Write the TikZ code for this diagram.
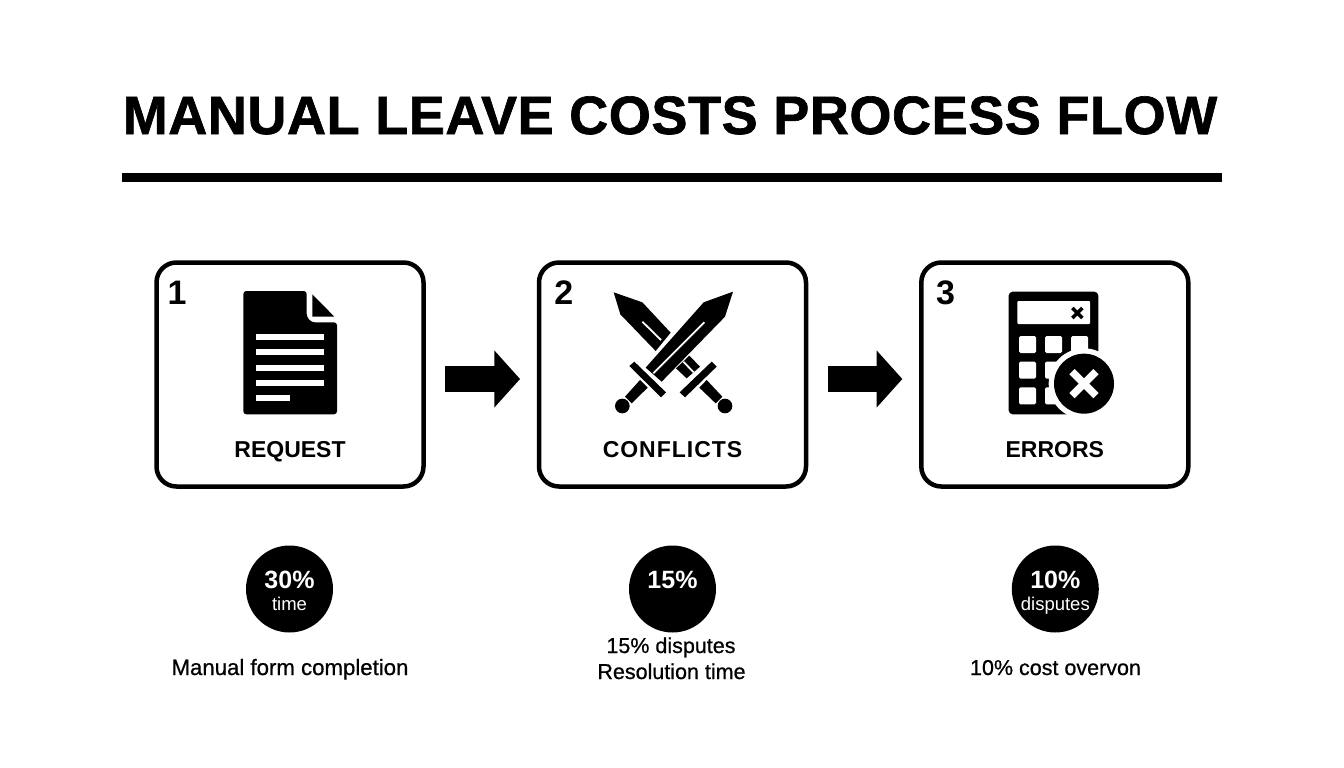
\documentclass[tikz,border=0pt]{standalone}
\usepackage{fontspec}
\setmainfont{Liberation Sans}
\newfontfamily\headfont[UprightFont={* Bold},FakeBold=1.2,LetterSpace=1.1]{Liberation Sans}
\newfontfamily\midfont[FakeBold=0.7]{Liberation Sans}
\usetikzlibrary{positioning,arrows.meta}

\tikzset{
    main/.style = {rectangle, rounded corners=20pt, line width=4.5pt, draw, minimum width=267pt, minimum height=224pt},
    stat/.style = {circle, fill=black, minimum size=87pt, inner sep=0pt},
    num/.style = {anchor=base, inner sep=0pt, font=\fontsize{34}{36}\selectfont\bfseries},
    tag/.style = {anchor=base, inner sep=0pt, font=\fontsize{23}{26}\selectfont\bfseries},
    pct/.style = {anchor=base, inner sep=0pt, text=white, font=\fontsize{25}{26}\selectfont\bfseries},
    unit/.style = {anchor=base, inner sep=0pt, text=white, font=\fontsize{18.5}{20}\selectfont},
    note/.style = {anchor=base, inner sep=0pt, align=center, font=\fontsize{21.5}{25.5}\selectfont\midfont},
    flow/.style = {line width=26.5pt, -{Triangle[length=25.7pt,width=55.6pt]}, shorten <=19.5pt, shorten >=16.7pt},
    cut/.style = {draw=white, line width=1.8pt}
}

\begin{document}
\begin{tikzpicture}[x=1pt, y=-1pt]
    \useasboundingbox (0,0) rectangle (1344,768);
    \node[anchor=base, inner sep=0pt, font=\fontsize{54}{60}\selectfont\headfont] (title) at (670,134) {MANUAL LEAVE COSTS PROCESS FLOW};
    \fill (122,172.7) rectangle (1222,181.7);

    \node[main] (box1) at (290,374.5) {};
    \node[main] (box2) [right=111pt of box1] {};
    \node[main] (box3) [right=110.8pt of box2] {};
    \draw[flow] ([yshift=-4.5pt]box1.east) -- ([yshift=-4.5pt]box2.west);
    \draw[flow] ([yshift=-4.5pt]box2.east) -- ([yshift=-4.5pt]box3.west);

    \node[num] (num1) at ([xshift=-113pt,yshift=70.2pt]box1.center) {1};
    \node[num] (num2) at ([xshift=-108.7pt,yshift=70.2pt]box2.center) {2};
    \node[num] (num3) at ([xshift=-109.2pt,yshift=70.2pt]box3.center) {3};
    \node[tag] (tag1) at ([yshift=-83pt]box1.center) {REQUEST};
    \node[tag] (tag2) at ([yshift=-83pt]box2.center) {\addfontfeature{LetterSpace=4.3}CONFLICTS};
    \node[tag] (tag3) at ([yshift=-83pt]box3.center) {ERRORS};

    % page icon
    \begin{scope}[shift={(150,255)}, scale=1/3]
        \fill[rounded corners=3pt] (280,108) -- (470,108) -- (470,185) -- (485,202) -- (561,202) -- (561,478) -- (280,478) -- cycle;
        \fill (487,118) -- (553,185) -- (487,185) -- cycle;
        \foreach \y in {238,283,329,375}
            \fill[white] (317,\y) rectangle (523,\y+18);
        \fill[white] (317,420) rectangle (421,438);
    \end{scope}

    % crossed swords
    \begin{scope}[shift={(605,285)}, scale=1/3]
        \fill (26,22) -- (112,52) -- (197,143) -- (152,198) -- (46,88) -- cycle;
        \draw[cut] (112,110) -- (168,165);
        \fill (253,212) -- (285,245) -- (245,280) -- (213,250) -- cycle;
        \draw[cut] (235,230) -- (266,262);
        \fill (320,230) -- (335,245) -- (240,337) -- (224,322) -- cycle;
        \fill (305,285) -- (283,308) -- (332,355) -- (352,335) -- cycle;
        \fill (360,363) circle (22);
        \fill (384,20) -- (296,52) -- (122,248) -- (170,290) -- (360,95) -- cycle;
        \draw[cut] (298,112) -- (145,265);
        \fill (88,230) -- (183,322) -- (168,337) -- (73,243) -- cycle;
        \fill (105,285) -- (128,308) -- (80,355) -- (60,335) -- cycle;
        \fill (52,363) circle (22);
    \end{scope}

    % calculator icon
    \begin{scope}[shift={(1000,285)}, scale=1/3]
        \fill[rounded corners=4pt] (26,20) rectangle (295,388);
        \fill[white, rounded corners=1pt] (52,48) rectangle (270,117);
        \draw[line width=3.6pt] (217,69) -- (247,99) (247,69) -- (217,99);
        \foreach \x in {57,135,213}
            \foreach \y in {153,230,307}
                \fill[white, rounded corners=1.5pt] (\x,\y) rectangle (\x+51,\y+51);
        \fill[white] (252,296) circle (106);
        \fill (252,296) circle (90);
        \draw[white, line width=7.5pt] (216,260) -- (288,332) (288,260) -- (216,332);
    \end{scope}

    \node[stat] (stat1) at (289.5,589) {};
    \node[stat] (stat2) at (672.5,589) {};
    \node[stat] (stat3) at (1055.3,589) {};
    \node[pct] (pct1) at ([yshift=1pt]stat1.center) {30\%};
    \node[pct] (pct2) at ([yshift=1pt]stat2.center) {15\%};
    \node[pct] (pct3) at ([yshift=1pt]stat3.center) {10\%};
    \node[unit] (unit1) at ([yshift=-21pt]stat1.center) {time};
    \node[unit] (unit3) at ([yshift=-21pt]stat3.center) {disputes};
    \node[note, font=\fontsize{22.2}{25.5}\selectfont\midfont] (note1) at (290,675) {Manual form completion};
    \node[note] (note2a) at (671,653) {15\% disputes};
    \node[note] (note2b) at (671.5,679) {Resolution time};
    \node[note] (note3) at (1055.5,675) {10\% cost overvon};
\end{tikzpicture}
\end{document}
